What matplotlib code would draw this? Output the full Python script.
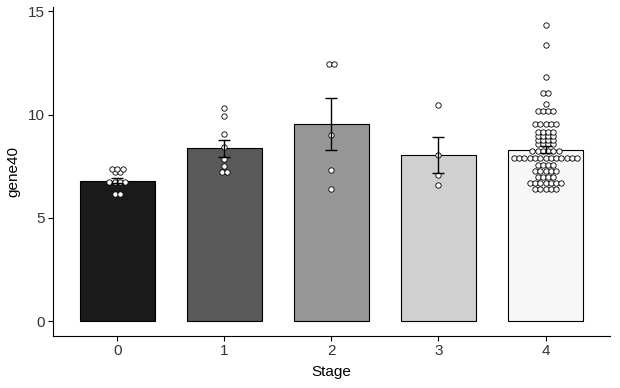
import numpy as np
import matplotlib
matplotlib.use("Agg")
import matplotlib.pyplot as plt

plt.rcParams['font.family'] = ['Liberation Sans', 'DejaVu Sans']

stages   = ['0', '1', '2', '3', '4']
bar_mean = [6.80, 8.36, 9.52, 8.03, 8.29]
bar_se   = [0.12, 0.42, 1.26, 0.87, 0.17]
fills    = ['#1a1a1a', '#595959', '#969696', '#d0d0d0', '#f7f7f7']

# individual samples per stage (repeated values sit on one row)
g0 = [7.35]*3 + [7.20]*2 + [6.75]*4 + [6.15]*2
g1 = [10.31, 9.94, 9.07, 8.44, 7.84, 7.52, 7.21, 7.21]
g2 = [12.45, 12.45, 9.00, 7.31, 6.39]
g3 = [10.46, 8.04, 7.05, 6.57]
g4 = ([14.33, 13.37, 11.82] + [11.03]*2 + [10.51] + [10.19]*4 + [9.55]*5
      + [9.15]*4 + [8.97]*4 + [8.78]*4 + [8.55]*4 + [8.22]*6 + [7.88]*13
      + [7.55]*4 + [7.27]*5 + [6.96]*4 + [6.66]*7 + [6.38]*5)
samples = [g0, g1, g2, g3, g4]

fig = plt.figure(figsize=(6.2, 3.88), dpi=100)
ax = fig.add_axes([0.0855, 0.134, 0.898, 0.849])

x = np.arange(len(stages))
ax.bar(x, bar_mean, width=0.7, color=fills, edgecolor='black', linewidth=0.8, zorder=1)

ax.set_xlim(-0.6, 4.6)
ax.set_ylim(-0.725, 15.225)

# spacing of the swarm rows, from pixel size to data units
fig.canvas.draw()
px_per_unit = ax.transData.transform((1, 0))[0] - ax.transData.transform((0, 0))[0]
dx = 5.3 / px_per_unit

for i, vals in enumerate(samples):
    vals = np.array(vals)
    for v in np.unique(vals):
        n = np.sum(vals == v)
        offs = (np.arange(n) - (n - 1) / 2.0) * dx
        ax.scatter(i + offs, np.full(n, v), s=15, facecolor='white',
                   edgecolor='black', linewidth=0.6, zorder=2)

ax.errorbar(x, bar_mean, yerr=bar_se, fmt='none', ecolor='black',
            elinewidth=1.0, capsize=4.5, capthick=1.0, zorder=3)

ax.set_xticks(x)
ax.set_xticklabels(stages)
ax.set_yticks([0, 5, 10, 15])
ax.tick_params(axis='both', colors='black', labelcolor='#333333', labelsize=11,
               length=3.5, width=0.8, pad=2.5)
ax.set_xlabel('Stage', fontsize=11, labelpad=5)
ax.set_ylabel('gene40', fontsize=11, labelpad=5)
for s in ['top', 'right']:
    ax.spines[s].set_visible(False)
for s in ['left', 'bottom']:
    ax.spines[s].set_linewidth(0.8)

fig.savefig('out.png', dpi=100)
